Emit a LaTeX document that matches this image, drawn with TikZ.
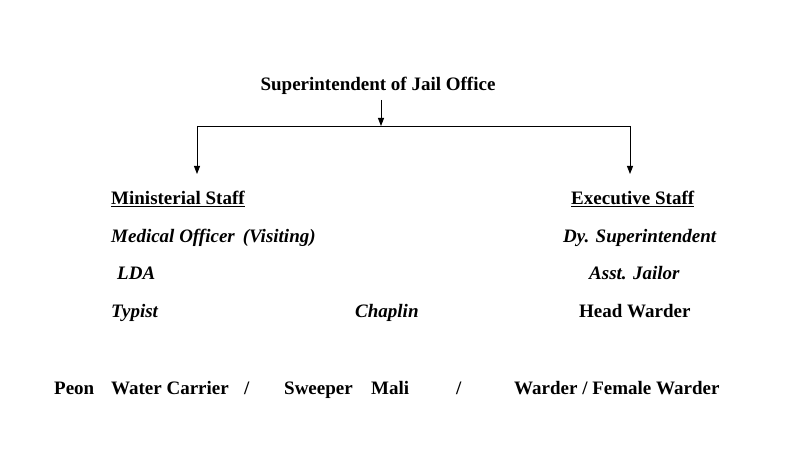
\documentclass[tikz,border=0pt]{standalone}
\usepackage{fontspec}
\setmainfont{Liberation Serif}
\usetikzlibrary{arrows.meta}
\begin{document}
\begin{tikzpicture}[x=1pt,y=-1pt,
  t/.style={anchor=mid west,inner sep=0pt,font=\fontsize{19}{22}\selectfont\bfseries},
  ti/.style={t,font=\fontsize{19}{22}\selectfont\bfseries\itshape},
  ar/.style={-{Triangle[length=8pt,width=6pt]},line width=0.9pt}]
\useasboundingbox (0,0) rectangle (810,457);
\node[t,anchor=mid] (top) at (378,88) {Superintendent of Jail Office};
\coordinate (m) at (381,100);
\coordinate (j) at (381,126);
\coordinate (l) at (197,126);
\coordinate (r) at (630,126);
\coordinate (lb) at (197,174);
\coordinate (rb) at (630,174);
\draw[ar] (m) -- (j);
\draw[line width=0.9pt] (l) -- (r);
\draw[ar] (l) -- (lb);
\draw[ar] (r) -- (rb);
\node[t] (ms) at (111,202) {\underline{Ministerial Staff}};
\node[ti] (mo) at (111,240) {Medical Officer\, (Visiting)};
\node[ti] (lda) at (117,277) {LDA};
\node[ti] (ty) at (111,315) {Typist};
\node[ti] (ch) at (355,315) {Chaplin};
\node[t] (es) at (571,202) {\underline{Executive Staff}};
\node[ti] (dy) at (563,240) {Dy. Superintendent};
\node[ti] (aj) at (589,277) {Asst. Jailor};
\node[t] (hw) at (579,315) {Head Warder};
\node[t] (pe) at (54,392) {Peon};
\node[t] (wc) at (111,392) {Water Carrier};
\node[t] (s1) at (244,392) {/};
\node[t] (sw) at (284,392) {Sweeper};
\node[t] (ma) at (371,392) {Mali};
\node[t] (s2) at (456,392) {/};
\node[t] (wf) at (514,392) {Warder / Female Warder};
\end{tikzpicture}
\end{document}
